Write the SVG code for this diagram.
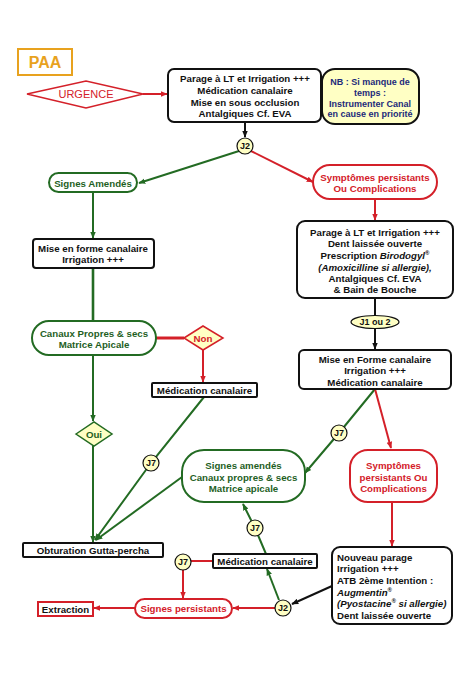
<svg xmlns="http://www.w3.org/2000/svg" width="475" height="676" viewBox="0 0 475 676">
<style>
text{font-family:"Liberation Sans",Arial,sans-serif;font-weight:bold;font-size:9.7px;text-anchor:middle;fill:#111}
.box{fill:#fff;stroke:#111;stroke-width:2}
.gp{fill:#fff;stroke:#236b23;stroke-width:2}
.rp{fill:#fff;stroke:#d42029;stroke-width:2}
.gt{fill:#1f5f1f}
.rt{fill:#d42029}
.nb{fill:#1c2a7a;font-size:9px}
.jc{fill:#ffffc4;stroke:#111;stroke-width:1.2}
.jt{font-size:9px}
.g{stroke:#236b23;stroke-width:2;fill:none}
.r{stroke:#d42029;stroke-width:2;fill:none}
.k{stroke:#111;stroke-width:2;fill:none}
.it{font-style:italic}
</style>
<defs>
<marker id="ag" viewBox="0 0 10 10" refX="9" refY="5" markerWidth="7" markerHeight="7" markerUnits="userSpaceOnUse" orient="auto"><path d="M0,1 L10,5 L0,9 z" fill="#236b23"/></marker>
<marker id="ar" viewBox="0 0 10 10" refX="9" refY="5" markerWidth="7" markerHeight="7" markerUnits="userSpaceOnUse" orient="auto"><path d="M0,1 L10,5 L0,9 z" fill="#d42029"/></marker>
<marker id="ak" viewBox="0 0 10 10" refX="9" refY="5" markerWidth="7" markerHeight="7" markerUnits="userSpaceOnUse" orient="auto"><path d="M0,1 L10,5 L0,9 z" fill="#111"/></marker>
</defs>

<g id="connectors">
<line class="r" x1="143" y1="94" x2="167" y2="94" marker-end="url(#ar)"/>
<line class="k" x1="245" y1="122" x2="245" y2="137" marker-end="url(#ak)"/>
<line class="g" x1="239" y1="151" x2="139" y2="183" marker-end="url(#ag)"/>
<line class="r" x1="251" y1="151" x2="313" y2="182" marker-end="url(#ar)"/>
<line class="r" x1="375" y1="199" x2="375" y2="220" marker-end="url(#ar)"/>
<line class="k" x1="375" y1="298" x2="375" y2="316"/>
<line class="k" x1="375" y1="328" x2="375" y2="349" marker-end="url(#ak)"/>
<line class="g" x1="93" y1="192" x2="93" y2="238" marker-end="url(#ag)"/>
<line class="g" x1="93" y1="268" x2="93" y2="321" style="stroke-width:2.6"/>
<line class="r" x1="156" y1="338" x2="184" y2="338" style="stroke-width:3"/>
<line class="r" x1="203" y1="350" x2="203" y2="382" marker-end="url(#ar)"/>
<line class="g" x1="93" y1="355" x2="93" y2="421" marker-end="url(#ag)"/>
<line class="g" x1="93" y1="445" x2="93" y2="542" marker-end="url(#ag)"/>
<polyline class="g" points="204,397 151,463 95,540" marker-end="url(#ag)"/>
<line class="g" x1="182" y1="477" x2="96" y2="540" marker-end="url(#ag)"/>
<polyline class="g" points="375,389 339,433 305,473" marker-end="url(#ag)"/>
<line class="r" x1="375" y1="389" x2="391" y2="448" marker-end="url(#ar)"/>
<line class="r" x1="392" y1="502" x2="392" y2="546" marker-end="url(#ar)"/>
<line class="k" x1="332" y1="586" x2="292" y2="604" marker-end="url(#ak)"/>
<line class="g" x1="279" y1="600" x2="267" y2="569" marker-end="url(#ag)"/>
<polyline class="g" points="266,554 255,528 243,504" marker-end="url(#ag)"/>
<line class="r" x1="213" y1="561" x2="191" y2="561"/>
<line class="r" x1="183" y1="570" x2="183" y2="598" marker-end="url(#ar)"/>
<line class="r" x1="275" y1="608" x2="233" y2="608" marker-end="url(#ar)"/>
<line class="r" x1="135" y1="608" x2="94" y2="608" marker-end="url(#ar)"/>
</g>

<g id="paa">
<rect x="18" y="49" width="54" height="26" fill="#fff" stroke="#e8a21e" stroke-width="2"/>
<text x="45" y="68" style="font-size:16px;fill:#e8a21e">PAA</text>
</g>

<g id="urgence">
<polygon points="27,94 86,81 143,94 86,108" fill="#fff" stroke="#d42029" stroke-width="1.5"/>
<text x="86" y="98" class="rt" style="font-size:11px;font-weight:normal">URGENCE</text>
</g>

<g id="box1">
<rect class="box" x="168" y="69" width="153" height="53" rx="6"/>
<text x="245" y="82">Parage à LT et Irrigation +++</text>
<text x="245" y="93.8">Médication canalaire</text>
<text x="245" y="105.6">Mise en sous occlusion</text>
<text x="245" y="117.4">Antalgiques Cf. EVA</text>
</g>

<g id="nb">
<rect x="322" y="69" width="97" height="55" rx="13" fill="#ffffc4" stroke="#111" stroke-width="2"/>
<text x="370" y="84.5" class="nb">NB : Si manque de</text>
<text x="370" y="95.5" class="nb">temps :</text>
<text x="370" y="106.5" class="nb">Instrumenter Canal</text>
<text x="370" y="116.5" class="nb">en cause en priorité</text>
</g>

<g id="j2a">
<circle class="jc" cx="245" cy="146" r="8"/>
<text x="245" y="149.2" class="jt">J2</text>
</g>

<g id="signes-amendes">
<rect class="gp" x="49" y="173" width="88" height="19" rx="9.5"/>
<text x="93" y="186.5" class="gt">Signes Amendés</text>
</g>

<g id="symptomes1">
<rect class="rp" x="313" y="165" width="124" height="34" rx="17"/>
<text x="375" y="180.5" class="rt">Symptômes persistants</text>
<text x="375" y="191.5" class="rt">Ou Complications</text>
</g>

<g id="mise-en-forme">
<rect class="box" x="33" y="239" width="121" height="29" rx="3"/>
<text x="93" y="251.5">Mise en forme canalaire</text>
<text x="93" y="263">Irrigation +++</text>
</g>

<g id="box2">
<rect class="box" x="297" y="221" width="156" height="77" rx="8"/>
<text x="375" y="235.5">Parage à LT et Irrigation +++</text>
<text x="375" y="246.5">Dent laissée ouverte</text>
<text x="375" y="258.5">Prescription <tspan class="it">Birodogyl</tspan><tspan style="font-size:6px" dy="-4">®</tspan></text>
<text x="375" y="270.5" class="it">(Amoxicilline si allergie),</text>
<text x="375" y="281.5">Antalgiques Cf. EVA</text>
<text x="375" y="292.5">&amp; Bain de Bouche</text>
</g>

<g id="j1ou2">
<ellipse class="jc" cx="375" cy="322" rx="24" ry="6.5"/>
<text x="375" y="325.3" class="jt">J1 ou 2</text>
</g>

<g id="box3">
<rect class="box" x="299" y="350" width="152" height="39" rx="5"/>
<text x="375" y="362.5">Mise en Forme canalaire</text>
<text x="375" y="374">Irrigation +++</text>
<text x="375" y="385.5">Médication canalaire</text>
</g>

<g id="canaux">
<rect class="gp" x="32" y="321" width="124" height="34" rx="17"/>
<text x="94" y="336.5" class="gt">Canaux Propres &amp; secs</text>
<text x="94" y="347.5" class="gt">Matrice Apicale</text>
</g>

<g id="non">
<polygon points="184,338 203,326 223,338 203,350" fill="#ffffc4" stroke="#d42029" stroke-width="1.5"/>
<text x="203" y="341.5" class="rt">Non</text>
</g>

<g id="medication1">
<rect class="box" x="152" y="383" width="105" height="14" rx="1"/>
<text x="204.5" y="393.5">Médication canalaire</text>
</g>

<g id="oui">
<polygon points="76,434 94,422 112,434 94,446" fill="#ffffc4" stroke="#236b23" stroke-width="1.5"/>
<text x="94" y="437.5" class="gt">Oui</text>
</g>

<g id="j7a">
<circle class="jc" cx="151" cy="463" r="8"/>
<text x="151" y="466.2" class="jt">J7</text>
</g>

<g id="j7b">
<circle class="jc" cx="339" cy="433" r="8"/>
<text x="339" y="436.2" class="jt">J7</text>
</g>

<g id="signes-amendes2">
<rect class="gp" x="182" y="450" width="123" height="52" rx="22"/>
<text x="243.5" y="468.5" class="gt">Signes amendés</text>
<text x="243.5" y="480.5" class="gt">Canaux propres &amp; secs</text>
<text x="243.5" y="491.5" class="gt">Matrice apicale</text>
</g>

<g id="symptomes2">
<rect class="rp" x="350" y="450" width="87" height="52" rx="18"/>
<text x="393.5" y="468.5" class="rt">Symptômes</text>
<text x="393.5" y="480.5" class="rt">persistants Ou</text>
<text x="393.5" y="491.5" class="rt">Complications</text>
</g>

<g id="obturation">
<rect class="box" x="23" y="543" width="140" height="14" rx="1"/>
<text x="93" y="554">Obturation Gutta-percha</text>
</g>

<g id="j7d">
<circle class="jc" cx="255" cy="528" r="8"/>
<text x="255" y="531.2" class="jt">J7</text>
</g>

<g id="medication2">
<rect class="box" x="213" y="554" width="104" height="14" rx="1"/>
<text x="265" y="565">Médication canalaire</text>
</g>

<g id="j7c">
<circle class="jc" cx="183" cy="562" r="8"/>
<text x="183" y="565.2" class="jt">J7</text>
</g>

<g id="nouveau">
<rect class="box" x="332" y="547" width="120" height="77" rx="8"/>
<text x="337" y="560.5" style="text-anchor:start">Nouveau parage</text>
<text x="337" y="571.5" style="text-anchor:start">Irrigation +++</text>
<text x="337" y="583.5" style="text-anchor:start">ATB 2ème Intention :</text>
<text x="337" y="595.5" style="text-anchor:start"><tspan class="it">Augmentin</tspan><tspan style="font-size:6px" dy="-4">®</tspan></text>
<text x="337" y="606.5" style="text-anchor:start" class="it">(Pyostacine<tspan style="font-size:6px" dy="-4">®</tspan><tspan dy="4"> si allergie)</tspan></text>
<text x="337" y="618.5" style="text-anchor:start">Dent laissée ouverte</text>
</g>

<g id="j2b">
<circle class="jc" cx="283" cy="608" r="8"/>
<text x="283" y="611.2" class="jt">J2</text>
</g>

<g id="signes-persistants">
<rect class="rp" x="135" y="599" width="97" height="19" rx="9.5"/>
<text x="183.5" y="611.5" class="rt">Signes persistants</text>
</g>

<g id="extraction">
<rect x="38" y="602" width="55" height="14" fill="#fff" stroke="#d42029" stroke-width="2"/>
<text x="65.5" y="612.8">Extraction</text>
</g>
</svg>
